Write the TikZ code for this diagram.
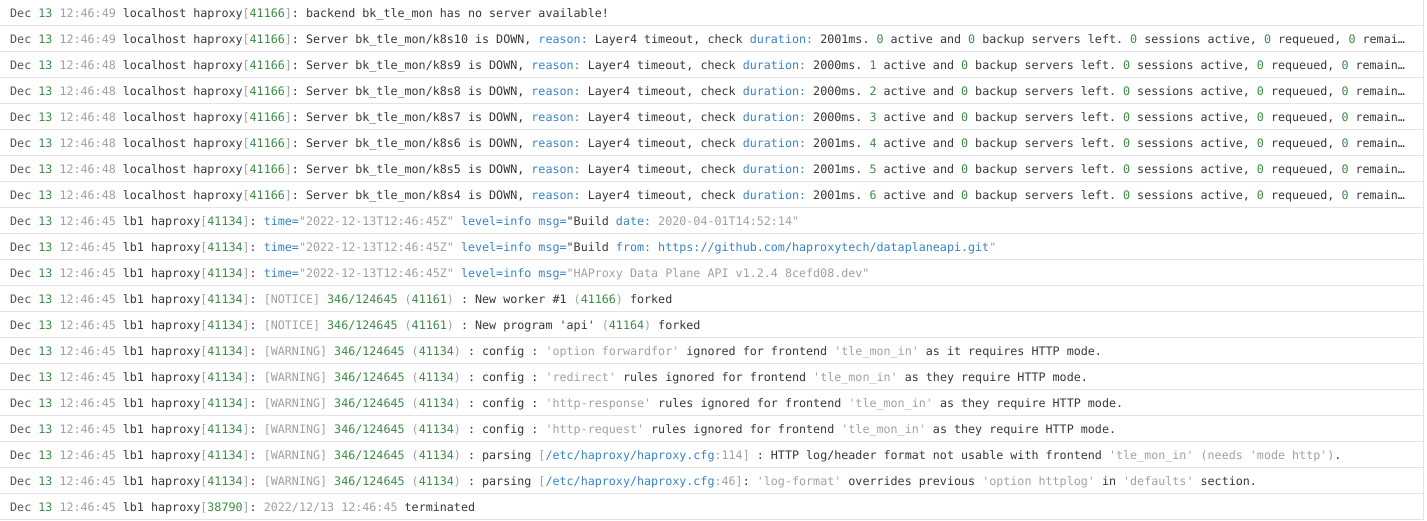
\documentclass[tikz,border=0pt]{standalone}
\usepackage{fontspec}
\setmonofont{DejaVu Sans Mono}
\definecolor{dk}{RGB}{55,55,55}
\definecolor{dg}{RGB}{85,85,85}
\definecolor{lg}{RGB}{160,160,160}
\definecolor{gr}{RGB}{60,140,70}
\definecolor{bl}{RGB}{55,130,200}
\definecolor{sep}{RGB}{225,226,232}
\newcommand{\Lg}[1]{\textcolor{lg}{#1}}
\newcommand{\Gr}[1]{\textcolor{gr}{#1}}
\newcommand{\Bl}[1]{\textcolor{bl}{#1}}
\newcommand{\pre}[3]{\textcolor{dg}{Dec} \Gr{13} \Lg{12:46:#1} #2\Lg{[}\Gr{#3}\Lg{]}:}
\newcommand{\srv}[4]{\pre{#1}{localhost haproxy}{41166} Server bk\_tle\_mon/#2 is DOWN, \Bl{reason:} Layer4 timeout, check \Bl{duration:} #3ms. \Gr{#4} active and \Gr{0} backup servers left. \Gr{0} sessions active, \Gr{0} requeued, \Gr{0} remain…}
\newcommand{\wrn}{\pre{45}{lb1 haproxy}{41134} \Lg{[WARNING]} \Gr{346/124645} \Lg{(}\Gr{41134}\Lg{)} :}
\newcommand{\tm}{\pre{45}{lb1 haproxy}{41134} \Bl{time=}\Lg{"2022-12-13T12:46:45Z"} \Bl{level=info} \Bl{msg=}}
\tikzset{logline/.style={anchor=base west,inner sep=0pt,font=\ttfamily\fontsize{11.7}{14}\selectfont,text=dk},
  sepline/.style={draw=sep,line width=1pt}}
\begin{document}
\begin{tikzpicture}[x=1pt,y=1pt]
\useasboundingbox (0,0) rectangle (1427,-521);
\draw[sepline] (1423,0) -- (1423,-520);
\foreach \k in {1,...,20}{\draw[sepline] (0,-26*\k+0.5) -- (1423,-26*\k+0.5);}
\newcommand{\rowy}[1]{-26*#1+8.5}
\node[logline] (r1) at (10,\rowy{1}) {\pre{49}{localhost haproxy}{41166} backend bk\_tle\_mon has no server available!};
\node[logline] (r2) at (10,\rowy{2}) {\pre{49}{localhost haproxy}{41166} Server bk\_tle\_mon/k8s10 is DOWN, \Bl{reason:} Layer4 timeout, check \Bl{duration:} 2001ms. \Gr{0} active and \Gr{0} backup servers left. \Gr{0} sessions active, \Gr{0} requeued, \Gr{0} remai…};
\node[logline] (r3) at (10,\rowy{3}) {\srv{48}{k8s9}{2000}{1}};
\node[logline] (r4) at (10,\rowy{4}) {\srv{48}{k8s8}{2000}{2}};
\node[logline] (r5) at (10,\rowy{5}) {\srv{48}{k8s7}{2000}{3}};
\node[logline] (r6) at (10,\rowy{6}) {\srv{48}{k8s6}{2001}{4}};
\node[logline] (r7) at (10,\rowy{7}) {\srv{48}{k8s5}{2001}{5}};
\node[logline] (r8) at (10,\rowy{8}) {\srv{48}{k8s4}{2001}{6}};
\node[logline] (r9) at (10,\rowy{9}) {\tm"Build \Bl{date:} \Lg{2020-04-01T14:52:14"}};
\node[logline] (r10) at (10,\rowy{10}) {\tm"Build \Bl{from:} \Bl{https://github.com/haproxytech/dataplaneapi.git}\Lg{"}};
\node[logline] (r11) at (10,\rowy{11}) {\tm\Lg{"HAProxy Data Plane API v1.2.4 8cefd08.dev"}};
\node[logline] (r12) at (10,\rowy{12}) {\pre{45}{lb1 haproxy}{41134} \Lg{[NOTICE]} \Gr{346/124645} \Lg{(}\Gr{41161}\Lg{)} : New worker \#1 \Lg{(}\Gr{41166}\Lg{)} forked};
\node[logline] (r13) at (10,\rowy{13}) {\pre{45}{lb1 haproxy}{41134} \Lg{[NOTICE]} \Gr{346/124645} \Lg{(}\Gr{41161}\Lg{)} : New program 'api' \Lg{(}\Gr{41164}\Lg{)} forked};
\node[logline] (r14) at (10,\rowy{14}) {\wrn{} config : \Lg{'option forwardfor'} ignored for frontend \Lg{'tle\_mon\_in'} as it requires HTTP mode.};
\node[logline] (r15) at (10,\rowy{15}) {\wrn{} config : \Lg{'redirect'} rules ignored for frontend \Lg{'tle\_mon\_in'} as they require HTTP mode.};
\node[logline] (r16) at (10,\rowy{16}) {\wrn{} config : \Lg{'http-response'} rules ignored for frontend \Lg{'tle\_mon\_in'} as they require HTTP mode.};
\node[logline] (r17) at (10,\rowy{17}) {\wrn{} config : \Lg{'http-request'} rules ignored for frontend \Lg{'tle\_mon\_in'} as they require HTTP mode.};
\node[logline] (r18) at (10,\rowy{18}) {\wrn{} parsing \Lg{[}\Bl{/etc/haproxy/haproxy.cfg}\Lg{:114]} : HTTP log/header format not usable with frontend \Lg{'tle\_mon\_in'} \Lg{(needs 'mode http')}.};
\node[logline] (r19) at (10,\rowy{19}) {\wrn{} parsing \Lg{[}\Bl{/etc/haproxy/haproxy.cfg}\Lg{:46]}: \Lg{'log-format'} overrides previous \Lg{'option httplog'} in \Lg{'defaults'} section.};
\node[logline] (r20) at (10,\rowy{20}) {\pre{45}{lb1 haproxy}{38790} \Lg{2022/12/13 12:46:45} terminated};
\end{tikzpicture}
\end{document}
